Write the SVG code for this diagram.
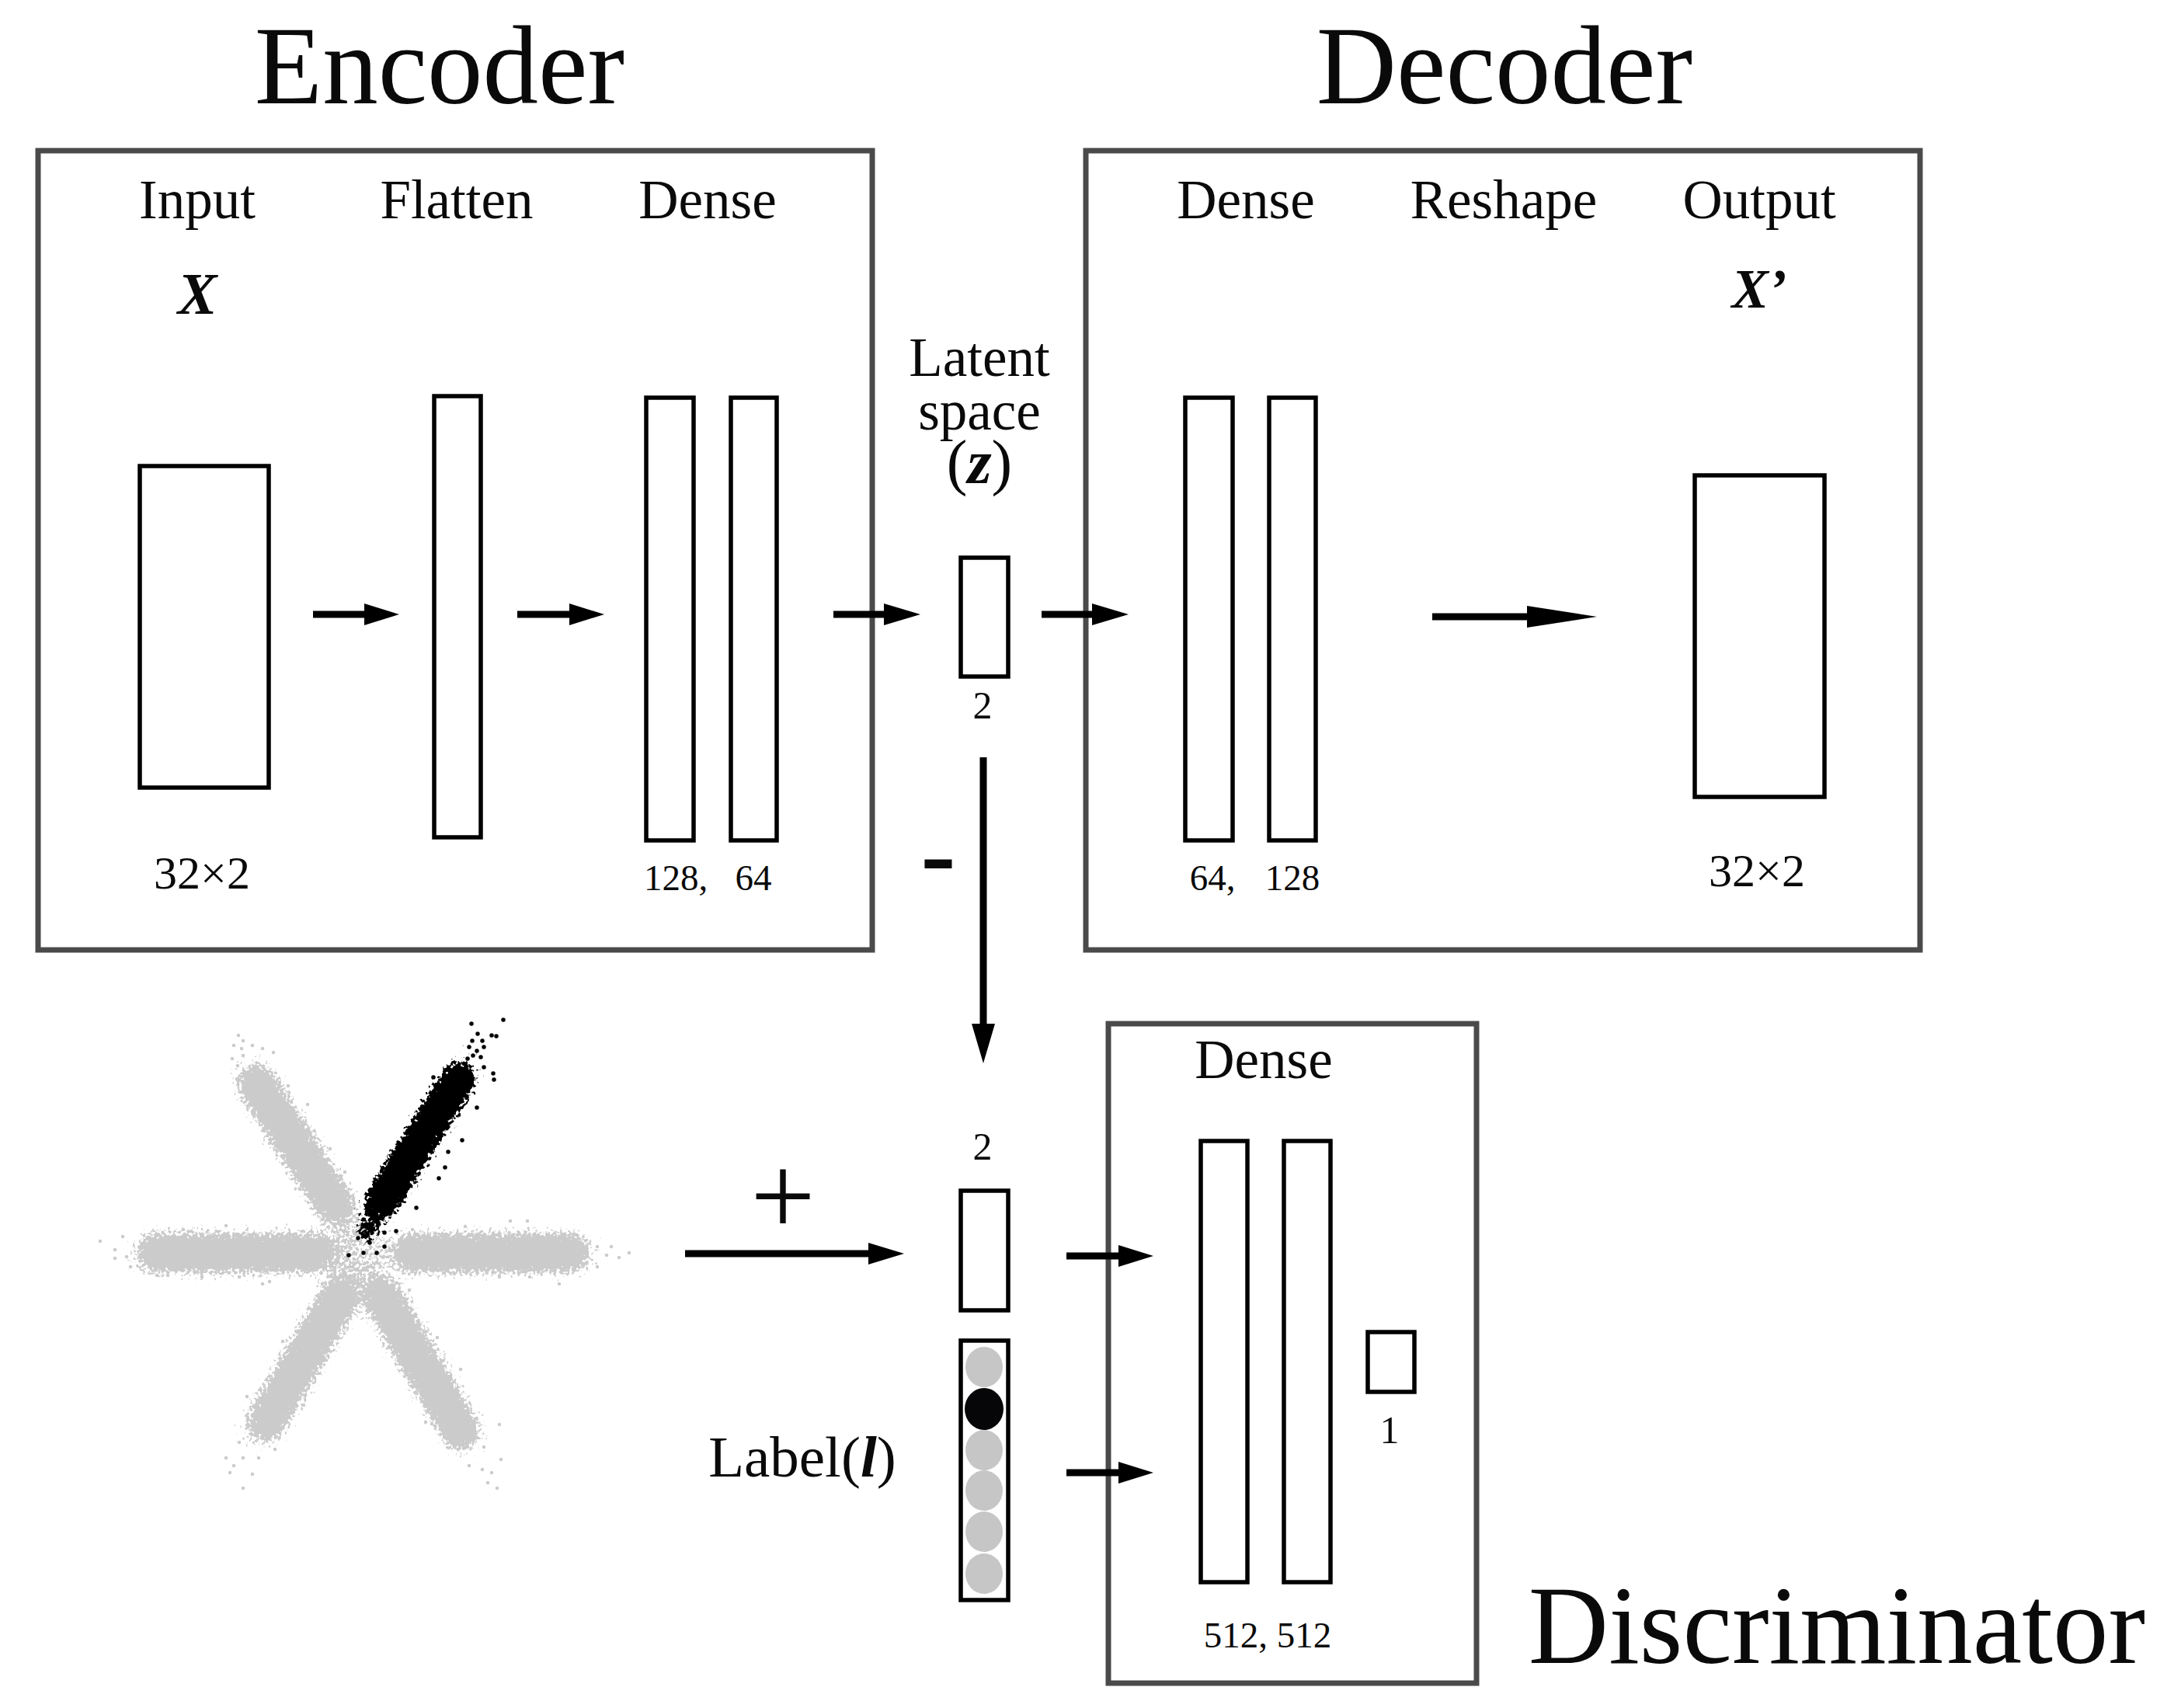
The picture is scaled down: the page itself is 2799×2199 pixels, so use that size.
<svg xmlns="http://www.w3.org/2000/svg" width="2799" height="2199" viewBox="0 0 2799 2199">
<style>
text{font-family:"Liberation Serif","Times New Roman",serif;fill:#0a0a0a;text-anchor:middle}
.title{font-size:143px}
.lab{font-size:71px}
.num{font-size:50px}
.small{font-size:47px}
.dim{font-size:60px}
.em{font-weight:bold;font-style:italic}
.panel{fill:none;stroke:#4a4a4a;stroke-width:7}
.layer{fill:#fff;stroke:#000;stroke-width:5.5}
.gc{fill:#c6c6c6}
.shaft{stroke:#000;stroke-width:9;fill:none}
.head{fill:#000}
.gd{fill:none;stroke:#cbcbcb;stroke-width:4.5;stroke-linecap:round}
.bd{fill:none;stroke:#000;stroke-width:5.5;stroke-linecap:round}
.arm{fill:none;stroke-linecap:round;stroke:#000}
</style>
<defs>
<filter id="grain" filterUnits="userSpaceOnUse" x="100" y="1270" width="760" height="720" color-interpolation-filters="sRGB">
<feGaussianBlur in="SourceAlpha" stdDeviation="9" result="b"/>
<feTurbulence type="fractalNoise" baseFrequency="0.24" numOctaves="2" seed="4" result="t"/>
<feColorMatrix in="t" type="matrix" values="0 0 0 0 0 0 0 0 0 0 0 0 0 0 0 1 0 0 0 0" result="n"/>
<feComposite in="b" in2="n" operator="arithmetic" k1="0" k2="1" k3="1" k4="-1" result="c"/>
<feComponentTransfer in="c" result="m"><feFuncA type="linear" slope="9" intercept="0"/></feComponentTransfer>
<feFlood flood-color="#cbcbcb" result="col"/>
<feComposite in="col" in2="m" operator="in"/>
</filter>
<filter id="grainb" filterUnits="userSpaceOnUse" x="400" y="1270" width="300" height="420" color-interpolation-filters="sRGB">
<feGaussianBlur in="SourceAlpha" stdDeviation="7" result="b"/>
<feTurbulence type="fractalNoise" baseFrequency="0.2" numOctaves="2" seed="9" result="t"/>
<feColorMatrix in="t" type="matrix" values="0 0 0 0 0 0 0 0 0 0 0 0 0 0 0 1 0 0 0 0" result="n"/>
<feComposite in="b" in2="n" operator="arithmetic" k1="0" k2="1" k3="1" k4="-1" result="c"/>
<feComponentTransfer in="c" result="m"><feFuncA type="linear" slope="9" intercept="0"/></feComponentTransfer>
<feFlood flood-color="#000" result="col"/>
<feComposite in="col" in2="m" operator="in"/>
</filter>
</defs>
<rect width="2799" height="2199" fill="#fff"/>

<g id="titles">
<text class="title" x="566" y="133">Encoder</text>
<text class="title" x="1937" y="133">Decoder</text>
<text class="title" x="2365" y="2141">Discriminator</text>
</g>

<g id="encoder">
<rect class="panel" x="49" y="194" width="1074" height="1029"/>
</g>
<g id="decoder">
<rect class="panel" x="1398" y="194" width="1074" height="1029"/>
</g>
<g id="discriminator">
<rect class="panel" x="1427" y="1318" width="474" height="849"/>
</g>

<g id="input">
<text class="lab" x="254" y="281">Input</text>
<text class="lab em" style="font-size:76px" x="254" y="404">X</text>
<rect class="layer" x="180" y="600" width="166" height="414"/>
<text class="dim" x="260" y="1144">32×2</text>
</g>
<g id="flatten">
<text class="lab" x="588" y="281">Flatten</text>
<rect class="layer" x="559" y="510" width="60" height="568"/>
</g>
<g id="enc-dense">
<text class="lab" x="911" y="281">Dense</text>
<rect class="layer" x="832" y="512" width="61" height="570"/>
<rect class="layer" x="941" y="512" width="59" height="570"/>
<text class="small" x="870" y="1146">128,</text>
<text class="small" x="970" y="1146">64</text>
</g>
<g id="latent">
<text class="lab" x="1261" y="484">Latent</text>
<text class="lab" x="1261" y="553">space</text>
<text class="lab" style="font-size:80px" x="1261" y="622">(<tspan class="em">z</tspan>)</text>
<rect class="layer" x="1237" y="718" width="61" height="153"/>
<text class="num" x="1265" y="925">2</text>
</g>
<g id="dec-dense">
<text class="lab" x="1604" y="281">Dense</text>
<rect class="layer" x="1526" y="512" width="61" height="570"/>
<rect class="layer" x="1634" y="512" width="60" height="570"/>
<text class="small" x="1561" y="1146">64,</text>
<text class="small" x="1664" y="1146">128</text>
</g>
<g id="reshape">
<text class="lab" x="1936" y="281">Reshape</text>
</g>
<g id="output">
<text class="lab" x="2265" y="281">Output</text>
<text class="lab em" x="2265" y="396">X’</text>
<rect class="layer" x="2182" y="612" width="167" height="414"/>
<text class="dim" x="2262" y="1141">32×2</text>
</g>
<g id="disc-input">
<text class="num" x="1265" y="1493">2</text>
<rect class="layer" x="1237" y="1533" width="61" height="154"/>
</g>
<g id="label-vector">
<text class="lab" style="font-size:75px" x="1033" y="1901">Label(<tspan class="em">l</tspan>)</text>
<rect class="layer" x="1237" y="1726" width="61" height="334"/>
<ellipse class="gc" cx="1267" cy="1760" rx="24" ry="26"/>
<ellipse cx="1267" cy="1814" rx="25" ry="27" fill="#060608"/>
<ellipse class="gc" cx="1267" cy="1867" rx="24" ry="26"/>
<ellipse class="gc" cx="1267" cy="1919" rx="24" ry="26"/>
<ellipse class="gc" cx="1267" cy="1972" rx="24" ry="26"/>
<ellipse class="gc" cx="1267" cy="2026" rx="24" ry="26"/>
</g>
<g id="disc-dense">
<text class="lab" x="1627" y="1388">Dense</text>
<rect class="layer" x="1546" y="1469" width="60" height="568"/>
<rect class="layer" x="1653" y="1469" width="60" height="568"/>
<text class="small" x="1632" y="2121">512, 512</text>
</g>
<g id="disc-output">
<rect class="layer" x="1761" y="1715" width="60" height="77"/>
<text class="num" x="1789" y="1858">1</text>
</g>

<g id="scatter">
<g filter="url(#grain)">
<path class="arm" stroke-width="46" d="M200 1613H405M530 1613H735M330 1395L432 1552M342 1832L438 1668M592 1842L492 1668"/>
<path class="arm" stroke-width="82" stroke-opacity=".3" d="M190 1613H425M520 1613H745M325 1385L440 1565M335 1840L447 1660M600 1850L485 1660"/>
<circle cx="459" cy="1613" r="42" fill="#000" fill-opacity=".42"/>
</g>
<path class="gd" d="M129 1598h0M148 1609h0M158 1592h0M163 1618h0M148 1620h0M168 1631h0M202 1642h0M216 1642h0M236 1583h0M291 1578h0M338 1653h0M347 1650h0M260 1644h0M308 1644h0M810 1613h0M797 1619h0M787 1605h0M769 1605h0M769 1631h0M781 1616h0M720 1653h0M679 1572h0M657 1572h0M599 1579h0M682 1644h0M643 1644h0M585 1640h0M531 1583h0M517 1594h0M307 1333h0M313 1340h0M301 1346h0M311 1350h0M338 1350h0M352 1355h0M299 1363h0M306 1372h0M313 1359h0M325 1346h0M308 1390h0M325 1433h0M396 1422h0M371 1398h0M357 1474h0M364 1498h0M386 1531h0M425 1479h0M444 1509h0M410 1561h0M415 1570h0M313 1916h0M325 1898h0M296 1896h0M291 1877h0M301 1887h0M313 1877h0M333 1877h0M354 1866h0M308 1857h0M318 1798h0M391 1809h0M364 1727h0M410 1753h0M415 1653h0M473 1687h0M640 1916h0M628 1909h0M633 1896h0M645 1879h0M621 1892h0M604 1887h0M590 1866h0M643 1834h0M623 1863h0M593 1763h0M548 1831h0M522 1768h0M500 1735h0M563 1722h0M527 1661h0"/>
<g filter="url(#grainb)">
<path class="arm" stroke-width="42" d="M590 1390L492 1545"/>
<path class="arm" stroke-width="26" stroke-opacity=".6" d="M490 1550L470 1590"/>
<path class="arm" stroke-width="64" stroke-opacity=".28" d="M600 1375L480 1570"/>
</g>
<path class="bd" d="M648 1313h0M607 1318h0M615 1331h0M633 1333h0M639 1334h0M608 1340h0M621 1340h0M604 1348h0M623 1348h0M614 1353h0M602 1363h0M609 1359h0M619 1361h0M599 1370h0M623 1374h0M635 1382h0M636 1390h0M614 1426h0M595 1468h0M577 1483h0M573 1503h0M565 1517h0M536 1555h0M558 1387h0M510 1585h0M495 1587h0M449 1616h0M461 1594h0M468 1613h0M485 1613h0M495 1605h0M476 1600h0M468 1570h0M473 1553h0M483 1531h0"/>
</g>

<g id="connectors">
<path class="shaft" d="M403 791H480M666 791H742M1073 791H1152M1341 791H1420M1844 794H2010M1266 975V1330M882 1614H1125M1373 1617H1450M1373 1896H1450"/>
<path class="head" d="M514 791L469 777V805ZM778 791L733 777V805ZM1185 791L1138 777V805ZM1453 791L1406 777V805ZM2056 794L1966 780V808ZM1266 1369L1251 1318H1281ZM1164 1614L1118 1600V1628ZM1485 1617L1440 1603V1631ZM1485 1896L1440 1882V1910Z"/>
</g>
<g id="signs">
<text x="1208" y="1144" style="font-size:135px;font-weight:bold">-</text>
<text x="1008" y="1590" style="font-size:148px">+</text>
</g>
</svg>
